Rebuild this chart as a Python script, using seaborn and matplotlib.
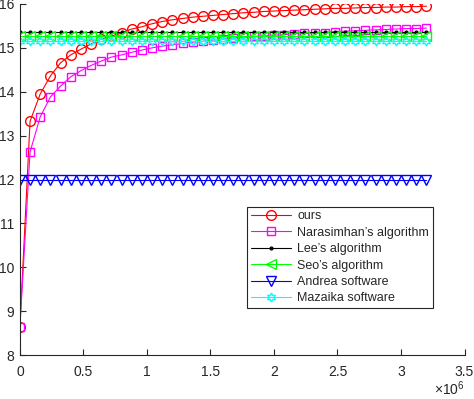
import numpy as np
import pandas as pd
import matplotlib
matplotlib.use("Agg")
import matplotlib.pyplot as plt
import seaborn as sns
from matplotlib.ticker import FuncFormatter, MultipleLocator

# x positions: 0 .. 3.2e6 every 80000 (41 samples)
steps = list(range(0, 3200001, 80000))

ours = [8.65, 13.33, 13.95, 14.36, 14.66, 14.84, 14.97, 15.09, 15.20, 15.27,
        15.34, 15.43, 15.48, 15.55, 15.60, 15.64, 15.67, 15.70, 15.72, 15.74,
        15.76, 15.78, 15.80, 15.81, 15.83, 15.84, 15.85, 15.86, 15.87, 15.88,
        15.89, 15.90, 15.90, 15.91, 15.92, 15.92, 15.93, 15.93, 15.94, 15.94, 15.95]
narasimhan = [8.65, 12.63, 13.43, 13.88, 14.13, 14.34, 14.48, 14.60, 14.70, 14.79,
              14.84, 14.90, 14.95, 15.00, 15.04, 15.07, 15.10, 15.13, 15.15, 15.18,
              15.20, 15.22, 15.24, 15.26, 15.27, 15.29, 15.30, 15.32, 15.33, 15.34,
              15.35, 15.37, 15.38, 15.39, 15.40, 15.41, 15.42, 15.43, 15.44, 15.44, 15.45]
lee = [15.37] * len(steps)
seo = [15.28] * len(steps)
andrea = [12.0] * len(steps)
mazaika = [15.16] * len(steps)

series = [
    ("ours", ours, "#ff0000", "o", 7, 1.0),
    ("Narasimhan\u2019s algorithm", narasimhan, "#ff00ff", "s", 5.5, 1.0),
    ("Lee\u2019s algorithm", lee, "#000000", ".", 4, 1.0),
    ("Seo\u2019s algorithm", seo, "#00ff00", "<", 6.5, 1.0),
    ("Andrea software", andrea, "#0000ff", "v", 6.5, 1.0),
    ("Mazaika software", mazaika, "#00ffff", (6, 1, 0), 6.5, 1.0),
]

sns.set_theme(style="white")
plt.rcParams["font.family"] = ["Liberation Sans", "DejaVu Sans"]
plt.rcParams["mathtext.fontset"] = "custom"
plt.rcParams["mathtext.rm"] = "Liberation Sans"
plt.rcParams["mathtext.it"] = "Liberation Sans:italic"
plt.rcParams["xtick.direction"] = "in"
plt.rcParams["ytick.direction"] = "in"

fig = plt.figure(figsize=(4.74, 3.99), dpi=100)
ax = fig.add_axes([0.042, 0.110, 0.938, 0.880])

for name, vals, col, mk, ms, mew in series:
    df = pd.DataFrame({"x": steps, "y": vals})
    sns.lineplot(data=df, x="x", y="y", ax=ax, color=col, marker=mk,
                 markersize=ms, markerfacecolor="none", markeredgecolor=col,
                 markeredgewidth=mew, linewidth=0.8, label=name)

ax.set_xlim(0, 3.5e6)
ax.set_ylim(8, 16)
ax.xaxis.set_major_locator(MultipleLocator(0.5e6))
ax.yaxis.set_major_locator(MultipleLocator(1))
ax.xaxis.set_major_formatter(FuncFormatter(lambda v, _: f"{v / 1e6:g}"))
ax.set_xlabel("")
ax.set_ylabel("")
ax.tick_params(axis="both", labelsize=10, length=4, width=0.8, colors="#262626",
               labelcolor="#262626", left=True, bottom=True)
ax.tick_params(axis="x", pad=7)
ax.tick_params(axis="y", pad=4)
for side in ("top", "right"):
    ax.spines[side].set_visible(False)
for side in ("left", "bottom"):
    ax.spines[side].set_color("#262626")
    ax.spines[side].set_linewidth(0.8)

ax.text(1.0, -0.122, "\u00d710$^{6}$", transform=ax.transAxes, ha="right",
        va="bottom", fontsize=10, color="#262626")

leg = ax.legend(loc="lower left", bbox_to_anchor=(0.511, 0.134), borderaxespad=0,
                fontsize=9, handlelength=3.2, labelspacing=0.35, fancybox=False,
                framealpha=1, edgecolor="#262626", borderpad=0.3, handletextpad=0.5)
leg.get_frame().set_linewidth(0.8)

fig.savefig("out.png", dpi=100)
